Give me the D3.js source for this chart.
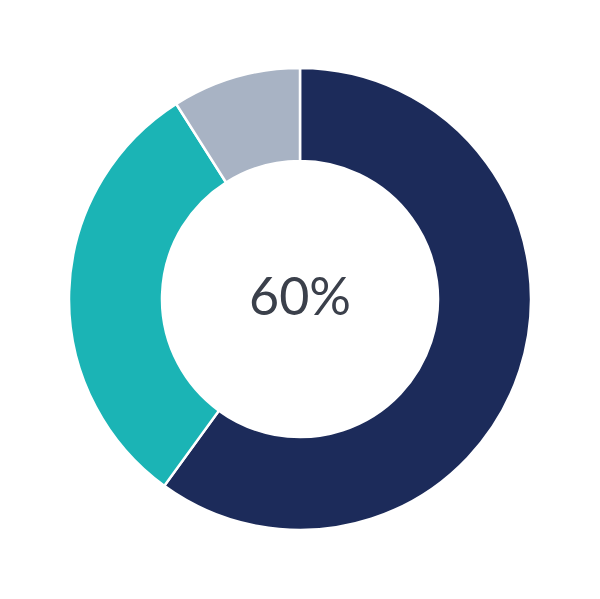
<!DOCTYPE html>
<html>
<head>
<meta charset="utf-8">
<script src="https://cdn.jsdelivr.net/npm/d3@7"></script>
<style>
  body { margin: 0; background: #fff; }
</style>
</head>
<body>
<div id="chartArea"></div>
<script>
var labels = ['A', 'B', 'C'];
var values = [60, 31, 9];
var colors = ['#1c2b5a', '#1bb4b5', '#a8b3c4'];
var centerLabel = '60%';

var w = 600, h = 599;
var cx = 300, cy = 299;
var outerR = 231, innerR = 138;

var svg = d3.select('#chartArea').append('svg')
    .attr('width', w)
    .attr('height', h);

var g = svg.append('g')
    .attr('transform', 'translate(' + cx + ', ' + cy + ')');

var pie = d3.pie().sort(null).value(function (d) { return d; });
var arc = d3.arc().innerRadius(innerR).outerRadius(outerR);

g.selectAll('path')
    .data(pie(values))
    .enter()
    .append('path')
    .attr('d', arc)
    .attr('fill', function (d, i) { return colors[i]; })
    .attr('stroke', '#fff')
    .attr('stroke-width', 2.5);

// big percentage in the hole
g.append('text')
    .attr('text-anchor', 'middle')
    .attr('y', 16)
    .attr('font-family', 'Lato, sans-serif')
    .attr('font-size', 52)
    .attr('fill', '#3b404b')
    .text(centerLabel);
</script>
</body>
</html>
